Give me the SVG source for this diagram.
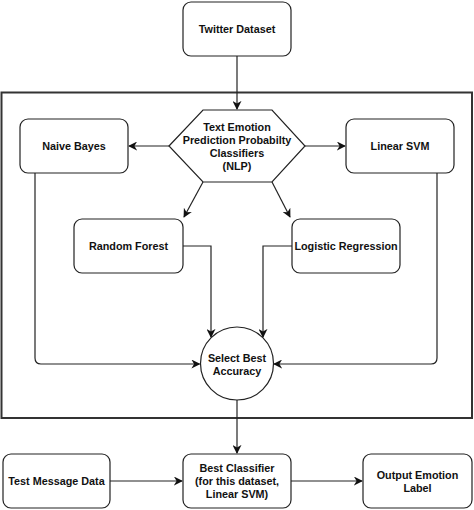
<svg xmlns="http://www.w3.org/2000/svg" width="474" height="510" viewBox="0 0 474 510">
<style>
.n{fill:#fff;stroke:#222;stroke-width:1.2}
.t{font-family:"Liberation Sans",Arial,sans-serif;font-weight:bold;font-size:10.8px;fill:#111;text-anchor:middle}
.c{fill:none;stroke:#222;stroke-width:1.2}
</style>
<defs>
<marker id="a" viewBox="0 0 10 10" refX="9" refY="5" markerWidth="9" markerHeight="9" orient="auto" markerUnits="userSpaceOnUse">
<path d="M0,0 L10,5 L0,10 L3,5 Z" fill="#111"/>
</marker>
</defs>
<rect id="container" x="1.5" y="92.5" width="470.5" height="325.5" fill="none" stroke="#333" stroke-width="2"/>
<g id="connectors">
<path class="c" d="M237,56 V109" marker-end="url(#a)"/>
<path class="c" d="M169,146 H129" marker-end="url(#a)"/>
<path class="c" d="M305,146 H345" marker-end="url(#a)"/>
<path class="c" d="M203,182 L184,217" marker-end="url(#a)"/>
<path class="c" d="M272,182 L290,217" marker-end="url(#a)"/>
<path class="c" d="M183,246 H211 V337" marker-end="url(#a)"/>
<path class="c" d="M292,246 H263 V337" marker-end="url(#a)"/>
<path class="c" d="M35,173 V358 Q35,364 41,364 H199.5" marker-end="url(#a)"/>
<path class="c" d="M437,173 V358 Q437,364 431,364 H274" marker-end="url(#a)"/>
<path class="c" d="M237,400 V453" marker-end="url(#a)"/>
<path class="c" d="M110,481 H182" marker-end="url(#a)"/>
<path class="c" d="M291,481 H362" marker-end="url(#a)"/>
</g>
<g id="twitter"><rect class="n" x="183" y="2" width="108" height="54" rx="8"/><text class="t" x="237" y="33">Twitter Dataset</text></g>
<g id="hex"><polygon class="n" points="169,146 203,110 272,110 305,146 272,182 203,182"/>
<text class="t" x="237" y="131">Text Emotion</text>
<text class="t" x="237" y="144">Prediction Probabilty</text>
<text class="t" x="237" y="157">Classifiers</text>
<text class="t" x="237" y="170">(NLP)</text></g>
<g id="naive"><rect class="n" x="20" y="119" width="108" height="54" rx="8"/><text class="t" x="74" y="150">Naive Bayes</text></g>
<g id="svm"><rect class="n" x="346" y="119" width="108" height="54" rx="8"/><text class="t" x="400" y="150">Linear SVM</text></g>
<g id="rf"><rect class="n" x="74" y="219" width="109" height="54" rx="8"/><text class="t" x="128.5" y="250">Random Forest</text></g>
<g id="lr"><rect class="n" x="292" y="219" width="108" height="54" rx="8"/><text class="t" x="346" y="250">Logistic Regression</text></g>
<g id="select"><circle class="n" cx="237" cy="363.5" r="36.5"/>
<text class="t" x="237" y="362">Select Best</text>
<text class="t" x="237" y="375">Accuracy</text></g>
<g id="test"><rect class="n" x="3" y="454" width="107" height="54" rx="8"/><text class="t" x="56.5" y="485">Test Message Data</text></g>
<g id="best"><rect class="n" x="183" y="454" width="108" height="54" rx="8"/>
<text class="t" x="237" y="472">Best Classifier</text>
<text class="t" x="237" y="485">(for this dataset,</text>
<text class="t" x="237" y="498">Linear SVM)</text></g>
<g id="output"><rect class="n" x="363" y="454" width="109" height="54" rx="8"/>
<text class="t" x="417.5" y="479">Output Emotion</text>
<text class="t" x="417.5" y="492">Label</text></g>
</svg>
